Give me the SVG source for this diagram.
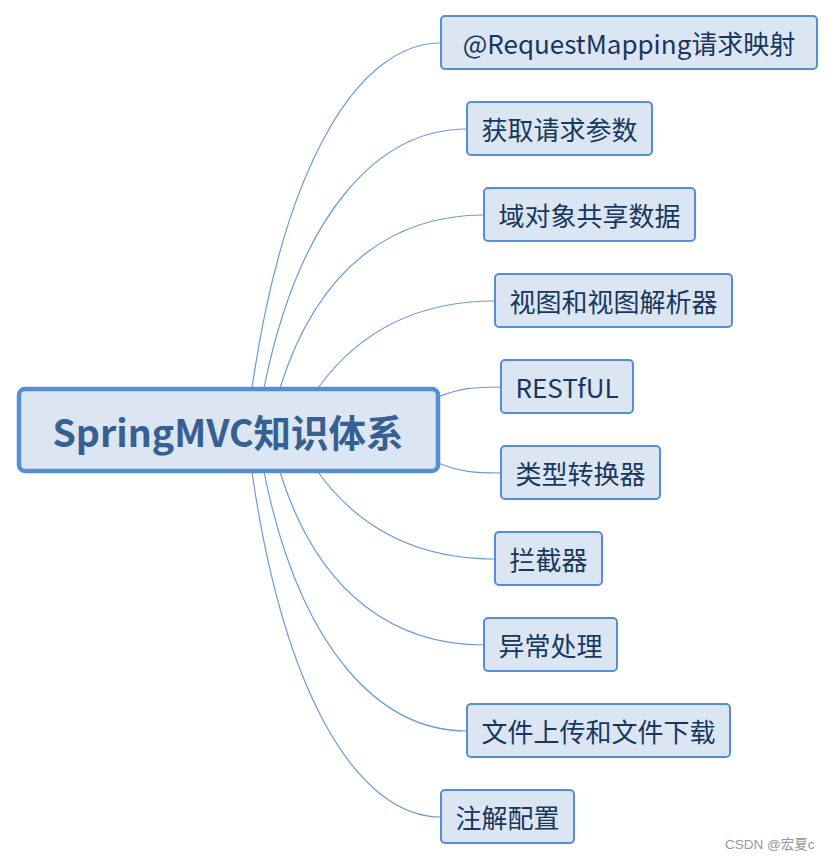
<svg xmlns="http://www.w3.org/2000/svg" width="833" height="860" viewBox="0 0 833 860">
<style>
.n rect{fill:#dce6f2;stroke:#558ed5;stroke-width:2}
.n text{font-family:"Noto Sans CJK SC","Noto Sans",sans-serif;font-size:26px;fill:#17375e;text-anchor:middle;dominant-baseline:central}
#root rect{stroke-width:4.5}
#root text{font-size:37.5px;font-weight:bold;fill:#376092}
.c path{fill:none;stroke:#6b9bd8;stroke-width:1.2}
.wm{font-family:"Liberation Sans","Noto Sans CJK SC",sans-serif;font-size:13.5px;fill:#999}
</style>
<rect width="833" height="860" fill="#fff"/>
<g class="c" id="connectors">
<path d="M252,388 C285,160 360,43 441,43"/>
<path d="M264,388 C300,210 380,129 467,129"/>
<path d="M280,388 C320,260 400,215 484,215"/>
<path d="M318,388 C360,330 420,301 495,301"/>
<path d="M438,397 C460,388 475,387 501,387"/>
<path d="M438,463 C460,472 475,473 501,473"/>
<path d="M318,472 C360,530 420,559 495,559"/>
<path d="M280,472 C320,600 400,645 484,645"/>
<path d="M264,472 C300,650 380,731 467,731"/>
<path d="M252,472 C285,700 360,817 441,817"/>
</g>
<g class="n" id="root"><rect x="19" y="389" width="419" height="82" rx="6"/><text x="228" y="430">SpringMVC知识体系</text></g>
<g class="n" id="n1"><rect x="441" y="16" width="376" height="53" rx="4"/><text x="629" y="42.5">@RequestMapping请求映射</text></g>
<g class="n" id="n2"><rect x="467" y="102" width="185" height="53" rx="4"/><text x="559.5" y="128.5">获取请求参数</text></g>
<g class="n" id="n3"><rect x="484" y="188" width="211" height="53" rx="4"/><text x="589.5" y="214.5">域对象共享数据</text></g>
<g class="n" id="n4"><rect x="495" y="274" width="237" height="53" rx="4"/><text x="613.5" y="300.5">视图和视图解析器</text></g>
<g class="n" id="n5"><rect x="501" y="360" width="132" height="53" rx="4"/><text x="567" y="386.5">RESTfUL</text></g>
<g class="n" id="n6"><rect x="501" y="446" width="159" height="53" rx="4"/><text x="580.5" y="472.5">类型转换器</text></g>
<g class="n" id="n7"><rect x="495" y="532" width="107" height="53" rx="4"/><text x="548.5" y="558.5">拦截器</text></g>
<g class="n" id="n8"><rect x="484" y="618" width="133" height="53" rx="4"/><text x="550.5" y="644.5">异常处理</text></g>
<g class="n" id="n9"><rect x="467" y="704" width="263" height="53" rx="4"/><text x="598.5" y="730.5">文件上传和文件下载</text></g>
<g class="n" id="n10"><rect x="441" y="790" width="133" height="53" rx="4"/><text x="507.5" y="816.5">注解配置</text></g>
<text class="wm" x="725" y="849">CSDN @宏夏c</text>
</svg>
